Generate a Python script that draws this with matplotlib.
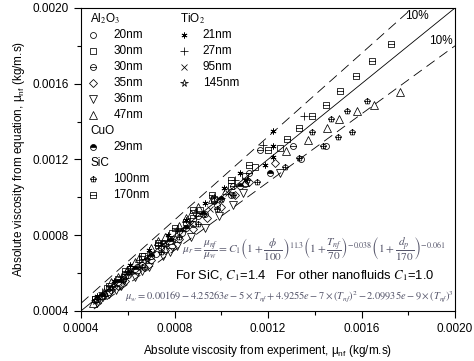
import numpy as np
import matplotlib
matplotlib.use("Agg")
import matplotlib.pyplot as plt
from matplotlib.path import Path

plt.rcParams['font.family'] = ['Liberation Sans', 'DejaVu Sans']
plt.rcParams['mathtext.fontset'] = 'stix'

# data, in units of 1e-4 kg/m.s  (x = experiment, y = equation)
al20_x = [4.7, 5.0, 5.2, 5.4, 5.8, 6.0, 6.2, 6.6, 7.0, 7.2, 7.4, 7.9, 8.3, 8.8, 9.3, 9.8, 10.4, 11.0, 13.4, 14.5]
al20_y = [4.6, 4.9, 5.0, 5.3, 5.8, 5.9, 6.1, 6.4, 6.9, 7.0, 7.3, 7.7, 8.1, 8.6, 9.1, 9.6, 10.1, 10.7, 12.0, 12.7]
al30_x = [4.6, 4.9, 5.1, 5.6, 5.9, 6.1, 6.7, 7.3, 7.6, 7.9, 8.5, 8.8, 9.1, 9.7, 10.4, 11.0, 11.44, 12.5]
al30_y = [4.6, 4.8, 5.2, 5.7, 5.9, 6.2, 6.9, 7.5, 7.6, 8.1, 8.7, 8.9, 9.3, 9.9, 10.6, 11.1, 11.62, 12.6]
al30b_x = [4.9, 5.5, 5.8, 6.0, 6.4, 6.8, 7.5, 7.8, 8.2, 9.0, 9.7, 10.5, 11.2, 11.66, 13.07]
al30b_y = [4.8, 5.5, 5.7, 6.1, 6.3, 6.8, 7.6, 7.8, 8.2, 9.0, 9.8, 10.6, 11.3, 12.5, 12.72]
al35_x = [4.8, 5.3, 5.6, 5.9, 6.4, 6.7, 7.0, 7.6, 7.9, 8.2, 8.8, 9.4, 10.0, 10.6, 11.2, 12.3]
al35_y = [4.6, 5.1, 5.3, 5.6, 6.1, 6.3, 6.7, 7.2, 7.4, 7.8, 8.3, 8.9, 9.5, 10.1, 10.8, 11.8]
al36_x = [4.7, 5.2, 5.5, 5.7, 6.3, 6.6, 6.9, 7.5, 7.8, 8.1, 8.7, 9.3, 9.9, 10.5, 10.94, 12.51]
al36_y = [4.4, 4.9, 5.1, 5.3, 5.8, 6.1, 6.3, 6.9, 7.1, 7.4, 7.9, 8.4, 9.0, 9.6, 10.21, 11.27]
al47_x = [4.5, 5.0, 5.3, 5.6, 5.95, 6.3, 6.5, 7.0, 7.3, 7.6, 8.2, 8.5, 8.7, 9.02, 9.6, 10.2, 11.0,
          12.76, 13.70, 14.54, 15.05, 15.80, 16.52, 17.66]
al47_y = [4.4, 5.0, 5.5, 5.8, 6.16, 6.6, 6.8, 7.3, 7.7, 7.9, 8.5, 8.9, 9.1, 9.5, 9.9, 10.4, 10.8,
          12.46, 13.02, 13.67, 14.13, 14.54, 14.89, 15.54]
cuo_x = [4.9, 5.6, 6.3, 7.0, 7.8, 8.5, 9.2, 10.0, 10.8, 12.09]
cuo_y = [4.8, 5.5, 6.2, 6.9, 7.7, 8.4, 9.1, 9.9, 10.6, 11.27]
sic100_x = [5.0, 5.8, 6.6, 7.4, 8.2, 9.0, 9.8, 10.5, 11.09, 11.52, 12.73, 13.33,
            13.88, 14.34, 14.70, 15.01, 15.37, 15.60, 16.22]
sic100_y = [4.8, 5.6, 6.3, 7.1, 7.9, 8.6, 9.4, 10.1, 10.91, 10.82, 11.61, 12.06,
            13.45, 12.72, 14.12, 13.20, 14.55, 13.46, 15.10]
sic170_x = [4.6, 5.2, 5.9, 6.6, 7.3, 8.0, 8.8, 9.6, 10.4, 11.2, 12.0, 12.81,
            13.33, 13.87, 14.47, 15.08, 15.75, 16.45, 17.25]
sic170_y = [4.6, 5.3, 6.1, 6.9, 7.6, 8.4, 9.3, 10.1, 10.9, 11.7, 12.5, 13.06,
            13.67, 14.27, 14.89, 15.63, 16.39, 17.18, 18.07]
ti21_x = [4.7, 5.4, 6.1, 6.9, 7.7, 8.5, 9.3, 10.1, 10.8, 11.87, 12.23, 12.2, 12.23]
ti21_y = [4.8, 5.6, 6.4, 7.2, 8.0, 8.8, 9.7, 10.5, 11.3, 11.7, 12.14, 12.72, 13.5]
ti27_x = [4.9, 5.7, 6.5, 7.3, 8.1, 8.9, 9.7, 10.6, 11.80, 13.54]
ti27_y = [5.0, 5.8, 6.7, 7.5, 8.3, 9.2, 10.0, 10.9, 12.76, 14.31]
ti95_x = [4.8, 5.5, 6.2, 7.0, 7.9, 8.7, 9.5, 10.3, 11.0]
ti95_y = [4.7, 5.4, 6.1, 6.9, 7.8, 8.6, 9.4, 10.2, 10.9]
ti145_x = [4.6, 5.3, 6.0, 6.8, 7.6, 8.4, 9.2, 10.0]
ti145_y = [4.5, 5.2, 6.0, 6.7, 7.5, 8.3, 9.1, 9.9]

# custom marker shapes
circ = Path.unit_circle()
theta_mark = Path.make_compound_path(circ, Path([[-1, 0], [1, 0]]))
sq = Path([[-1, -1], [1, -1], [1, 1], [-1, 1], [-1, -1]])
sqline_mark = Path.make_compound_path(sq, Path([[-1, 0], [1, 0]]))
pent = Path.unit_regular_polygon(5)
pent_mark = Path.make_compound_path(pent, Path([[-1, 0.05], [1, 0.05]]),
                                    Path([[0, -0.8], [0, 1]]))

# (label, x, y, marker, extra style)
series = [
    ("20nm", al20_x, al20_y, 'o', {}),
    ("30nm", al30_x, al30_y, 's', {}),
    ("30nm", al30b_x, al30b_y, theta_mark, {}),
    ("35nm", al35_x, al35_y, 'D', {}),
    ("36nm", al36_x, al36_y, 'v', {}),
    ("47nm", al47_x, al47_y, '^', {}),
    ("29nm", cuo_x, cuo_y, 'o', {'fillstyle': 'top', 'markerfacecolor': 'black',
                                  'markerfacecoloralt': 'white'}),
    ("100nm", sic100_x, sic100_y, pent_mark, {}),
    ("170nm", sic170_x, sic170_y, sqline_mark, {}),
    ("21nm", ti21_x, ti21_y, (6, 2, 0), {}),
    ("27nm", ti27_x, ti27_y, '+', {}),
    ("95nm", ti95_x, ti95_y, 'x', {}),
    ("145nm", ti145_x, ti145_y, '*', {}),
]
sizes = {'o': 4.3, 's': 3.8, 'D': 3.6, 'v': 5.2, '^': 5.4, '+': 5.2, 'x': 4.6, '*': 5.6}

fig = plt.figure(figsize=(4.74, 3.61), dpi=100)
ax = fig.add_axes([0.171, 0.139, 0.789, 0.839])

handles = []
for lab, xs, ys, mk, extra in series:
    ms = sizes.get(mk, 4.6) if isinstance(mk, str) else 4.3
    style = dict(linestyle='none', marker=mk, markersize=ms, markeredgecolor='black',
                 markeredgewidth=0.55, markerfacecolor='none')
    style.update(extra)
    h, = ax.plot(np.array(xs) * 1e-4, np.array(ys) * 1e-4, **style)
    handles.append(h)

# reference lines
ref = np.array([0.0004, 0.0020])
ax.plot(ref, ref, color='black', lw=0.6)
ax.plot(ref, ref * 1.1, color='black', lw=0.6, dashes=(12, 7))
ax.plot(ref, ref * 0.9, color='black', lw=0.6, dashes=(12, 7))
ax.text(0.001837, 0.00196, "10%", fontsize=8.5, ha='center', va='center')
ax.text(0.00194, 0.001827, "10%", fontsize=8.5, ha='center', va='center')

ax.set_xlim(0.0004, 0.0020)
ax.set_ylim(0.0004, 0.0020)
ax.set_xticks([0.0004, 0.0008, 0.0012, 0.0016, 0.0020])
ax.set_yticks([0.0004, 0.0008, 0.0012, 0.0016, 0.0020])
ax.set_xticks([0.0006, 0.0010, 0.0014, 0.0018], minor=True)
ax.set_yticks([0.0006, 0.0010, 0.0014, 0.0018], minor=True)
ax.xaxis.set_major_formatter(plt.FuncFormatter(lambda v, p: "%.4f" % v))
ax.yaxis.set_major_formatter(plt.FuncFormatter(lambda v, p: "%.4f" % v))
ax.tick_params(which='major', direction='out', length=5, width=0.8, labelsize=8.5)
ax.tick_params(which='minor', direction='out', length=3, width=0.8)
for s in ax.spines.values():
    s.set_linewidth(0.8)

ax.set_xlabel(r"Absolute viscosity from experiment, $\mathregular{\mu_{nf}}$ (kg/m.s)",
              fontsize=8.5, labelpad=6)
ax.set_ylabel(r"Absolute viscosity from equation, $\mathregular{\mu_{nf}}$ (kg/m.s)",
              fontsize=8.5, labelpad=4)

# hand-built legend (left column + TiO2 column)
row = 0.0528
top = 0.964
col1 = [("Al$_2$O$_3$", None), ("20nm", 0), ("30nm", 1), ("30nm", 2), ("35nm", 3),
        ("36nm", 4), ("47nm", 5), ("CuO", None), ("29nm", 6), ("SiC", None),
        ("100nm", 7), ("170nm", 8)]
col2 = [("TiO$_2$", None), ("21nm", 9), ("27nm", 10), ("95nm", 11), ("145nm", 12)]
for cols, xh, xm, xt in [(col1, 0.024, 0.033, 0.086), (col2, 0.265, 0.274, 0.325)]:
    for i, (txt, idx) in enumerate(cols):
        yy = top - i * row
        if idx is None:
            ax.text(xh, yy, txt, transform=ax.transAxes, fontsize=8.5,
                    ha='left', va='center')
        else:
            h = handles[idx]
            ax.plot([xm], [yy], transform=ax.transAxes, linestyle='none',
                    marker=h.get_marker(), markersize=h.get_markersize(),
                    markeredgecolor='black', markeredgewidth=0.55,
                    markerfacecolor=h.get_markerfacecolor(),
                    fillstyle=h.get_fillstyle(),
                    markerfacecoloralt=h.get_markerfacecoloralt(), clip_on=False)
            ax.text(xt, yy, txt, transform=ax.transAxes, fontsize=8.5,
                    ha='left', va='center')

# correlation text
gray = '#55556a'
ax.text(0.270, 0.205,
        r"$\mu_r=\dfrac{\mu_{nf}}{\mu_w}=C_1\left(1+\dfrac{\phi}{100}\right)^{11.3}"
        r"\left(1+\dfrac{T_{nf}}{70}\right)^{-0.038}\left(1+\dfrac{d_p}{170}\right)^{-0.061}$",
        transform=ax.transAxes, fontsize=8.2, color=gray, ha='left', va='center')
ax.text(0.251, 0.115, r"For SiC, $\mathit{C}_1$=1.4   For other nanofluids $\mathit{C}_1$=1.0",
        transform=ax.transAxes, fontsize=9.3, ha='left', va='center')
ax.text(0.118, 0.047,
        r"$\mu_w=0.00169-4.25263e-5\times T_{nf}+4.9255e-7\times\left(T_{nf}\right)^2"
        r"-2.09935e-9\times\left(T_{nf}\right)^3$",
        transform=ax.transAxes, fontsize=7.5, color=gray, ha='left', va='center',
        clip_on=True)

fig.savefig("out.png", dpi=100)
